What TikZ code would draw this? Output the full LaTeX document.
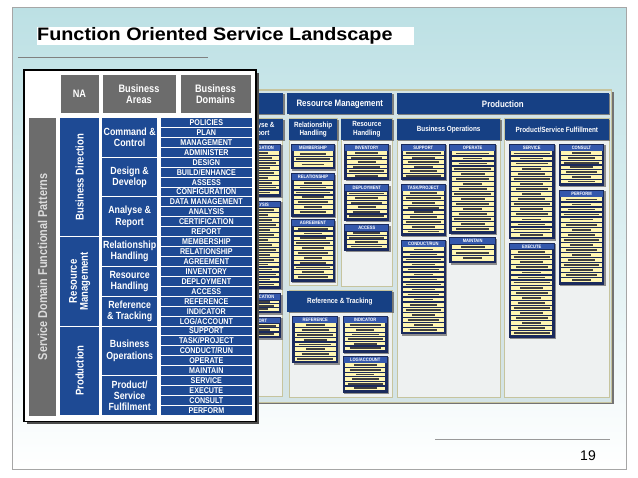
\documentclass[tikz,border=0pt]{standalone}
\definecolor{slidetop}{RGB}{188,224,228}
\definecolor{panelblue}{RGB}{30,74,148}
\definecolor{headgray}{RGB}{108,108,108}
\definecolor{labelgray}{RGB}{220,220,220}
\definecolor{navyhead}{RGB}{22,64,132}
\definecolor{boxbody}{RGB}{26,42,92}
\definecolor{boxhead}{RGB}{52,88,172}
\definecolor{creambar}{RGB}{255,246,178}
\definecolor{colfill}{RGB}{238,241,241}
\definecolor{colline}{RGB}{198,196,158}
\definecolor{bgpanel}{RGB}{212,228,230}
\usepackage{fontspec}
\setmainfont{Liberation Sans}
\newfontfamily\condfont[FakeStretch=0.85]{Liberation Sans}
\newfontfamily\titlefont[FakeStretch=1.1]{Liberation Sans}
\usepackage{tikz}
\usetikzlibrary{positioning,shadows}

\begin{document}
\begin{tikzpicture}[
      x=1pt, y=-1pt,
      hdr/.style={fill=headgray, text=white, align=center, inner sep=0pt,
                  minimum height=37.7pt, font=\condfont\bfseries\fontsize{10.8}{11}\selectfont},
      sidebar/.style={fill=headgray, text=labelgray, rotate=90, inner sep=0pt,
                      minimum height=26.7pt, font=\condfont\bfseries\fontsize{12.8}{13}\selectfont},
      grp/.style={fill=panelblue, text=white, rotate=90, align=center, inner sep=0pt,
                  minimum height=38.7pt, font=\condfont\bfseries\fontsize{11.2}{11}\selectfont},
      area/.style={fill=panelblue, text=white, align=center, inner sep=0pt,
                   minimum width=55.3pt, font=\condfont\bfseries\fontsize{10.4}{11.2}\selectfont},
      dom/.style={fill=panelblue, text=white, inner sep=0pt, minimum width=90.7pt,
                  minimum height=8.93pt, text height=6pt, text depth=0pt,
                  font=\condfont\bfseries\fontsize{8.4}{8}\selectfont},
      bighead/.style={fill=navyhead, text=white, align=center, inner sep=0pt,
                      drop shadow={shadow xshift=1.2pt, shadow yshift=-1.2pt, fill=black!60, opacity=0.8},
                      font=\condfont\bfseries\fontsize{9.3}{10}\selectfont},
      subhead/.style={bighead, minimum height=21pt, font=\condfont\bfseries\fontsize{7.5}{8.7}\selectfont},
      boxhead/.style={fill=boxhead, text=white, inner sep=0pt, minimum height=5.5pt,
                      text height=3.4pt, text depth=0pt,
                      font=\condfont\bfseries\fontsize{4.8}{5}\selectfont},
      bgcol/.style={fill=colfill, draw=colline, line width=1pt}
  ]
  \useasboundingbox (0,0) rectangle (638,478);
  \fill[white] (0,0) rectangle (638,478);

  %% ---- slide: background, title, rules, page number
  \shade[top color=slidetop, bottom color=white] (12,7.5) rectangle (626,469);
  \draw[gray!70, line width=0.8pt] (12,7.5) rectangle (626,469);
  \fill[white] (36.6,27) rectangle (414,44.7);
  \node[anchor=base west, inner sep=0pt, font=\titlefont\bfseries\fontsize{18}{18}\selectfont]
       (title) at (37,40.7) {Function Oriented Service Landscape};
  \draw[gray, line width=1pt] (17.9,57.7) -- (208.3,57.7);
  \draw[gray!80, line width=1.2pt] (435,439.3) -- (610,439.3);
  \node[inner sep=0pt, font=\fontsize{14}{14}\selectfont] (pagenum) at (588,455.7) {19};

  %% ---- landscape behind: outer panel and columns
  \fill[black!55] (242,92) rectangle (613.5,404.5);
  \filldraw[fill=bgpanel, draw=colline, line width=1.2pt] (240,90) rectangle (611.7,402.7);
  \foreach \xa/\xb/\ya/\yb in {235/282.3/119/396.7, 289/337.3/119/286, 341.3/392.3/119/287,
                               289/392.3/291/397.7, 397/500.7/119/397.7, 504.7/609/119/397.7}
    \filldraw[bgcol] (\xa,\ya) rectangle (\xb,\yb);

  %% top row of headers (the left one is mostly hidden)
  \node[bighead, minimum width=183.3pt, minimum height=21pt] (bd-head)   at (191.65,103.8) {};
  \node[bighead, minimum width=105pt,   minimum height=21pt] (rm-head)   at (339.8,103.8) {Resource Management};
  \node[bighead, minimum width=212.3pt, minimum height=21pt] (prod-head) at (502.85,103.8) {Production};

  %% second row of headers
  \node[subhead, minimum width=48.3pt]  (ar-head)   at (259.15,129.5) {Analyse \&\\Report};
  \node[subhead, minimum width=48.3pt]  (relh-head) at (313.15,129.5) {Relationship\\Handling};
  \node[subhead, minimum width=51pt]    (resh-head) at (366.8,129.5)  {Resource\\Handling};
  \node[subhead, minimum width=103.3pt] (bo-head)   at (448.65,129.5) {Business Operations};
  \node[subhead, minimum width=104.3pt] (psf-head)  at (556.85,129.5) {Product/Service Fulfillment};
  \node[subhead, minimum width=105pt, minimum height=20.7pt] (rt-head) at (339.8,301.35) {Reference \& Tracking};

  %% small domain boxes: header + rows of entries
  \foreach \nm/\xa/\xb/\ya/\yb/\n [count=\k] in {
      AGGREGATION/236/281.3/144/197/9, ANALYSIS/236/281.3/200.7/289/16,
      CERTIFICATION/236/281.3/293.3/313.3/3, REPORT/236/281.3/316.7/338.3/3,
      MEMBERSHIP/291/335/144/169.3/3, RELATIONSHIP/291/335/173.3/216.7/7,
      AGREEMENT/291/335/219.3/281.7/11,
      INVENTORY/344.3/389.3/144/180/6, DEPLOYMENT/344.3/389.3/184.3/220.7/6,
      ACCESS/344.3/389.3/224.3/250.7/4,
      REFERENCE/292.3/338.3/316/363.3/8, INDICATOR/342.7/387.7/316/352.7/6,
      {LOG/ACCOUNT}/342.7/387.7/356/392.7/6,
      SUPPORT/400.7/446/144/180/6, {TASK/PROJECT}/400.7/446/184/236/9,
      {CONDUCT/RUN}/400.7/446/240/334.3/17,
      OPERATE/449.3/496/144/234/16, MAINTAIN/449.3/496/237.3/263.3/3,
      SERVICE/508.7/554.7/144/239.3/17, EXECUTE/508.7/554.7/242.7/338/17,
      CONSULT/558.7/604.3/144/186/7, PERFORM/558.7/604.3/190/284.7/17}{
    \fill[black!45] (\xa+1.3,\ya+1.3) rectangle (\xb+1.3,\yb+1.3);
    \fill[boxbody] (\xa,\ya) rectangle (\xb,\yb);
    \node[boxhead, minimum width={\xb-\xa-2}] (sb\k) at ({(\xa+\xb)/2},\ya+3.8) {\nm};
    \pgfmathsetmacro\pitch{(\yb-\ya-9)/\n}
    \foreach \j in {1,...,\n}{
      \pgfmathsetmacro\yt{\ya+7.5+(\j-1)*\pitch}
      \pgfmathsetmacro\half{(\xb-\xa-8)/2*(0.5+0.45*mod(\j*7+\k*3,5)/4)}
      \fill[creambar] (\xa+2.5,\yt) rectangle (\xb-2.5,\yt+\pitch-1.2);
      \draw[black!75, line width=1.8pt] ({(\xa+\xb)/2-\half},\yt+\pitch/2-0.6) -- ({(\xa+\xb)/2+\half},\yt+\pitch/2-0.6);
    }
  }

  %% ---- front panel: the functional pattern table
  \fill[black!70] (27,73) rectangle (259,424.5);
  \filldraw[fill=white, draw=black, line width=1.2pt] (24,70) rectangle (256,421.5);

  \node[hdr, minimum width=38pt] (na)      at (79.5,93.85)  {NA};
  \node[hdr, minimum width=73pt] (areas)   at (139,93.85)   {Business\\Areas};
  \node[hdr, minimum width=70pt] (domains) at (215.5,93.85) {Business\\Domains};

  \node[sidebar, minimum width=297.9pt] (sdfp) at (42.65,266.95) {Service Domain Functional Patterns};

  \node[grp, minimum width=118.16pt] (bd)   at (79.65,177.08)  {Business Direction};
  \node[grp, minimum width=88.37pt]  (rm)   at (79.65,281.345) {Resource\\Management};
  \node[grp, minimum width=88.37pt]  (prod) at (79.65,370.715) {Production};

  %% business areas, spanning rows s..e of the domain column
  \foreach \s/\e/\txt [count=\k] in {0/4/{Command \&\\Control}, 4/8/{Design \&\\Develop},
      8/12/{Analyse \&\\Report}, 12/15/{Relationship\\Handling}, 15/18/{Resource\\Handling},
      18/21/{Reference\\\& Tracking}, 21/26/{Business\\Operations}, 26/30/{Product/\\Service\\Fulfilment}}
    \node[area, minimum height={9.93*(\e-\s)-1}] (area\k) at (129.65,{118+9.93*(\s+\e)/2-0.5}) {\txt};

  %% business domains, one per row
  \foreach \txt [count=\i from 0] in {POLICIES, PLAN, MANAGEMENT, ADMINISTER, DESIGN, {BUILD/ENHANCE},
      ASSESS, CONFIGURATION, DATA MANAGEMENT, ANALYSIS, CERTIFICATION, REPORT, MEMBERSHIP,
      RELATIONSHIP, AGREEMENT, INVENTORY, DEPLOYMENT, ACCESS, REFERENCE, INDICATOR,
      {LOG/ACCOUNT}, SUPPORT, {TASK/PROJECT}, {CONDUCT/RUN}, OPERATE, MAINTAIN, SERVICE,
      EXECUTE, CONSULT, PERFORM}
    \node[dom] (dom\i) at (206.35,{118+9.93*\i+4.465}) {\txt};
\end{tikzpicture}
\end{document}
